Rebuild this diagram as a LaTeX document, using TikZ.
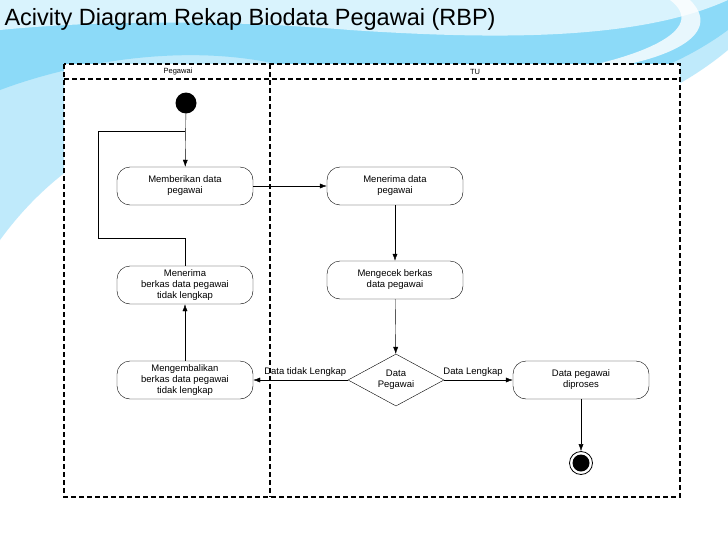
\documentclass[tikz,border=0pt]{standalone}
\usepackage{fontspec}
\setmainfont{Liberation Sans}
\usetikzlibrary{shapes.geometric,arrows.meta}
\begin{document}
\begin{tikzpicture}[x=1pt,y=-1pt,
  act/.style={draw,rounded corners=13pt,minimum width=136pt,minimum height=38pt,align=center,font=\fontsize{9.5}{11}\selectfont,fill=white},
  arr/.style={-{Latex[length=7pt,width=5pt]}},
  lane/.style={dash pattern=on 5pt off 3pt,line width=1.3pt},
  lbl/.style={font=\fontsize{9.5}{11}\selectfont}]
\useasboundingbox (0,0) rectangle (728,546);
\fill[white] (0,0) rectangle (728,546);
% background wave
\fill[cyan!25!white] (0,0) -- (728,0) -- (728,50) .. controls (620,140) and (450,160) .. (300,120) .. controls (200,95) and (80,130) .. (0,240) -- cycle;
\fill[cyan!45!white] (0,0) -- (728,0) -- (728,30) .. controls (620,110) and (450,120) .. (300,70) .. controls (200,40) and (80,60) .. (0,90) -- cycle;
\fill[cyan!15!white] (0,0) -- (728,0) -- (728,0) .. controls (640,40) and (500,40) .. (350,30) .. controls (230,20) and (100,20) .. (0,30) -- cycle;
\fill[white,opacity=0.8] (690,0) .. controls (730,40) and (650,70) .. (540,75) .. controls (640,60) and (710,30) .. (670,0) -- cycle;
\node[anchor=west,font=\fontsize{23.5}{26}\selectfont] (title) at (1,19) {Acivity Diagram Rekap Biodata Pegawai (RBP)};
% swimlanes
\fill[white] (64,64) rectangle (680,497);
\draw[lane] (64,64) rectangle (680,497);
\draw[lane] (64,79) -- (680,79);
\draw[lane] (270,64) -- (270,497);
\node[font=\fontsize{7.5}{8}\selectfont] (lp) at (178,71.5) {Pegawai};
\node[font=\fontsize{7.5}{8}\selectfont] (lt) at (475,71.5) {TU};
% nodes
\node[circle,fill=black,minimum size=21pt,inner sep=0] (start) at (186,103) {};
\node[act] (a1) at (185,186) {Memberikan data\\pegawai};
\node[act] (a2) at (395,186) {Menerima data\\pegawai};
\node[act] (a3) at (395,280) {Mengecek berkas\\data pegawai};
\node[diamond,draw,aspect=1.85,minimum width=96pt,minimum height=52pt,inner sep=0,align=center,font=\fontsize{9.5}{11}\selectfont,fill=white] (d) at (396,380) {Data\\Pegawai};
\node[act] (a4) at (581,380) {Data pegawai\\diproses};
\node[circle,draw,line width=0.8pt,minimum size=23pt,inner sep=0] (end) at (581,463) {};
\node[circle,fill=black,minimum size=17pt,inner sep=0] (endin) at (581,463) {};
\node[act] (a5) at (185,380) {Mengembalikan\\berkas data pegawai\\tidak lengkap};
\node[act] (a6) at (185,285) {Menerima\\berkas data pegawai\\tidak lengkap};
\coordinate (j) at (185,131);
% edges
\draw[arr] (start) -- (a1);
\draw[arr] (a1) -- (a2);
\draw[arr] (a2) -- (a3);
\draw[arr] (a3) -- (d);
\draw[arr] (d) -- node[lbl,above,pos=0.42] (l1) {Data Lengkap} (a4);
\draw[arr] (d) -- node[lbl,above,pos=0.45] (l2) {Data tidak Lengkap} (a5);
\draw[arr] (a4) -- (end);
\draw[arr] (a5) -- (a6);
\draw (a6.north) -- (185,238) -- (98,238) -- (98,131) -- (j);
\end{tikzpicture}
\end{document}
